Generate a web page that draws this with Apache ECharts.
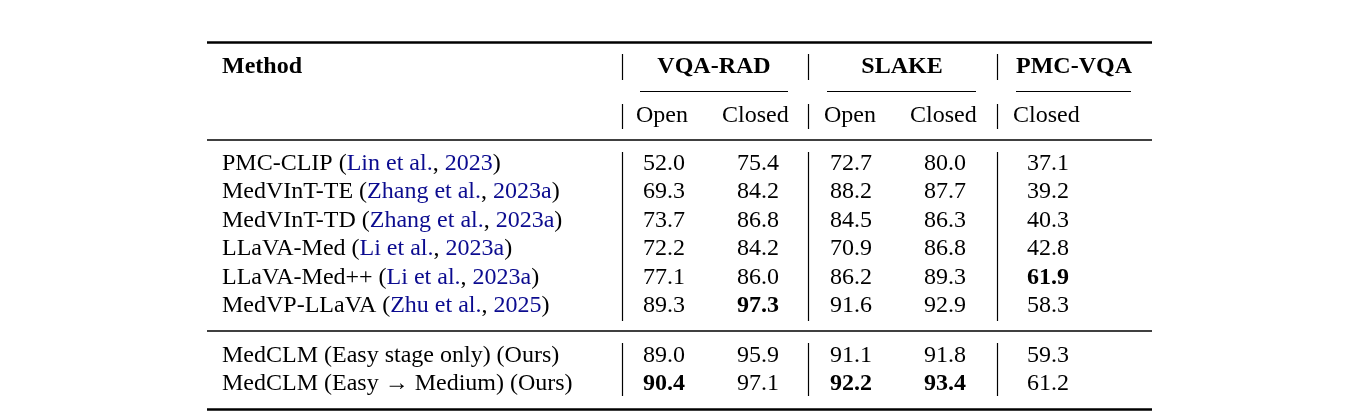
<!DOCTYPE html>
<html><head><meta charset="utf-8">
<script src="https://cdn.jsdelivr.net/npm/echarts@6/dist/echarts.min.js"></script>
<style>html,body{margin:0;padding:0;background:#fff}#c{width:1368px;height:412px}</style>
</head><body><div id="c"></div>
<script>
// ---- data ----
const methods = ["PMC-CLIP","MedVInT-TE","MedVInT-TD","LLaVA-Med","LLaVA-Med++","MedVP-LLaVA","MedCLM (Easy stage only) (Ours)","MedCLM (Easy \u2192 Medium) (Ours)"];
const citeAuthors = ["Lin et al.","Zhang et al.","Zhang et al.","Li et al.","Li et al.","Zhu et al.",null,null];
const citeYears = ["2023","2023a","2023a","2023a","2023a","2025",null,null];
const vqaOpen   = ["52.0","69.3","73.7","72.2","77.1","89.3","89.0","90.4"];
const vqaClosed = ["75.4","84.2","86.8","84.2","86.0","97.3","95.9","97.1"];
const slakeOpen = ["72.7","88.2","84.5","70.9","86.2","91.6","91.1","92.2"];
const slakeClosed=["80.0","87.7","86.3","86.8","89.3","92.9","91.8","93.4"];
const pmcClosed = ["37.1","39.2","40.3","42.8","61.9","58.3","59.3","61.2"];
const boldCells = {vqaOpen:[7],vqaClosed:[5],slakeOpen:[7],slakeClosed:[7],pmcClosed:[4]};
const groups = ["VQA-RAD","SLAKE","PMC-VQA"];
const subHeaders = ["Open","Closed","Open","Closed","Closed"];

// ---- layout ----
const rowY = [164,192,221,249,278,306,356,384];
const colX = {vqaOpen:664,vqaClosed:758,slakeOpen:851,slakeClosed:945,pmcClosed:1048};
const methodX = 222;
const FONT = "Liberation Serif";
const FS = 24;

const pts = [];
methods.forEach((m,i)=>{
  let s;
  if (citeAuthors[i]) s = m + " {p|(}{c|"+citeAuthors[i]+"}{p|,} {c|"+citeYears[i]+"}{p|)}";
  else s = m;
  pts.push({value:[methodX,rowY[i]], txt:s, align:'left', bold:false});
});
Object.keys(colX).forEach(k=>{
  const arr = {vqaOpen,vqaClosed,slakeOpen,slakeClosed,pmcClosed}[k];
  arr.forEach((v,i)=>pts.push({value:[colX[k],rowY[i]], txt:v, align:'center', bold:boldCells[k].includes(i)}));
});
pts.push({value:[222,67],txt:"Method",align:'left',bold:true});
pts.push({value:[714,67],txt:groups[0],align:'center',bold:true});
pts.push({value:[902,67],txt:groups[1],align:'center',bold:true});
pts.push({value:[1074,67],txt:groups[2],align:'center',bold:true});
const subX=[636,722,824,910,1013];
subHeaders.forEach((h,i)=>pts.push({value:[subX[i],116],txt:h,align:'left',bold:false}));

const data = pts.map(p=>({value:p.value,label:{show:true,position:'inside',align:p.align,verticalAlign:'middle',
  formatter:p.txt, fontFamily:FONT,fontSize:FS,color:'#000',opacity:1,textBorderWidth:0,fontWeight:p.bold?'bold':'normal',
  rich:{c:{color:'#0b0b8f',fontFamily:FONT,fontSize:FS},p:{color:'#000',fontFamily:FONT,fontSize:FS}}}}));

const seg=(x1,y1,x2,y2,w)=>({coords:[[x1,y1],[x2,y2]],lineStyle:{width:w}});
const lineData=[
  seg(207,42,1152,42,2.5), seg(207,140,1152,140,1.5), seg(207,331,1152,331,1.5), seg(207,409,1152,409,2.5),
  seg(640,91,788,91,1), seg(827,91,976,91,1), seg(1016,91,1131,91,1)
];
[622,808,997].forEach(x=>{
  lineData.push(seg(x,54,x,80,1.2)); lineData.push(seg(x,104,x,129,1.2));
  lineData.push(seg(x,152,x,321,1.2)); lineData.push(seg(x,343,x,396,1.2));
});

const chart = echarts.init(document.getElementById('c'));
chart.setOption({
  animation:false,
  grid:{left:0,right:0,top:0,bottom:0},
  xAxis:{type:'value',min:0,max:1368,show:false},
  yAxis:{type:'value',min:0,max:412,inverse:true,show:false},
  series:[
    {type:'lines',coordinateSystem:'cartesian2d',data:lineData,lineStyle:{color:'#000',opacity:1},silent:true},
    {type:'scatter',symbolSize:0,itemStyle:{opacity:1},data:data,silent:true}
  ]
});
</script></body></html>
